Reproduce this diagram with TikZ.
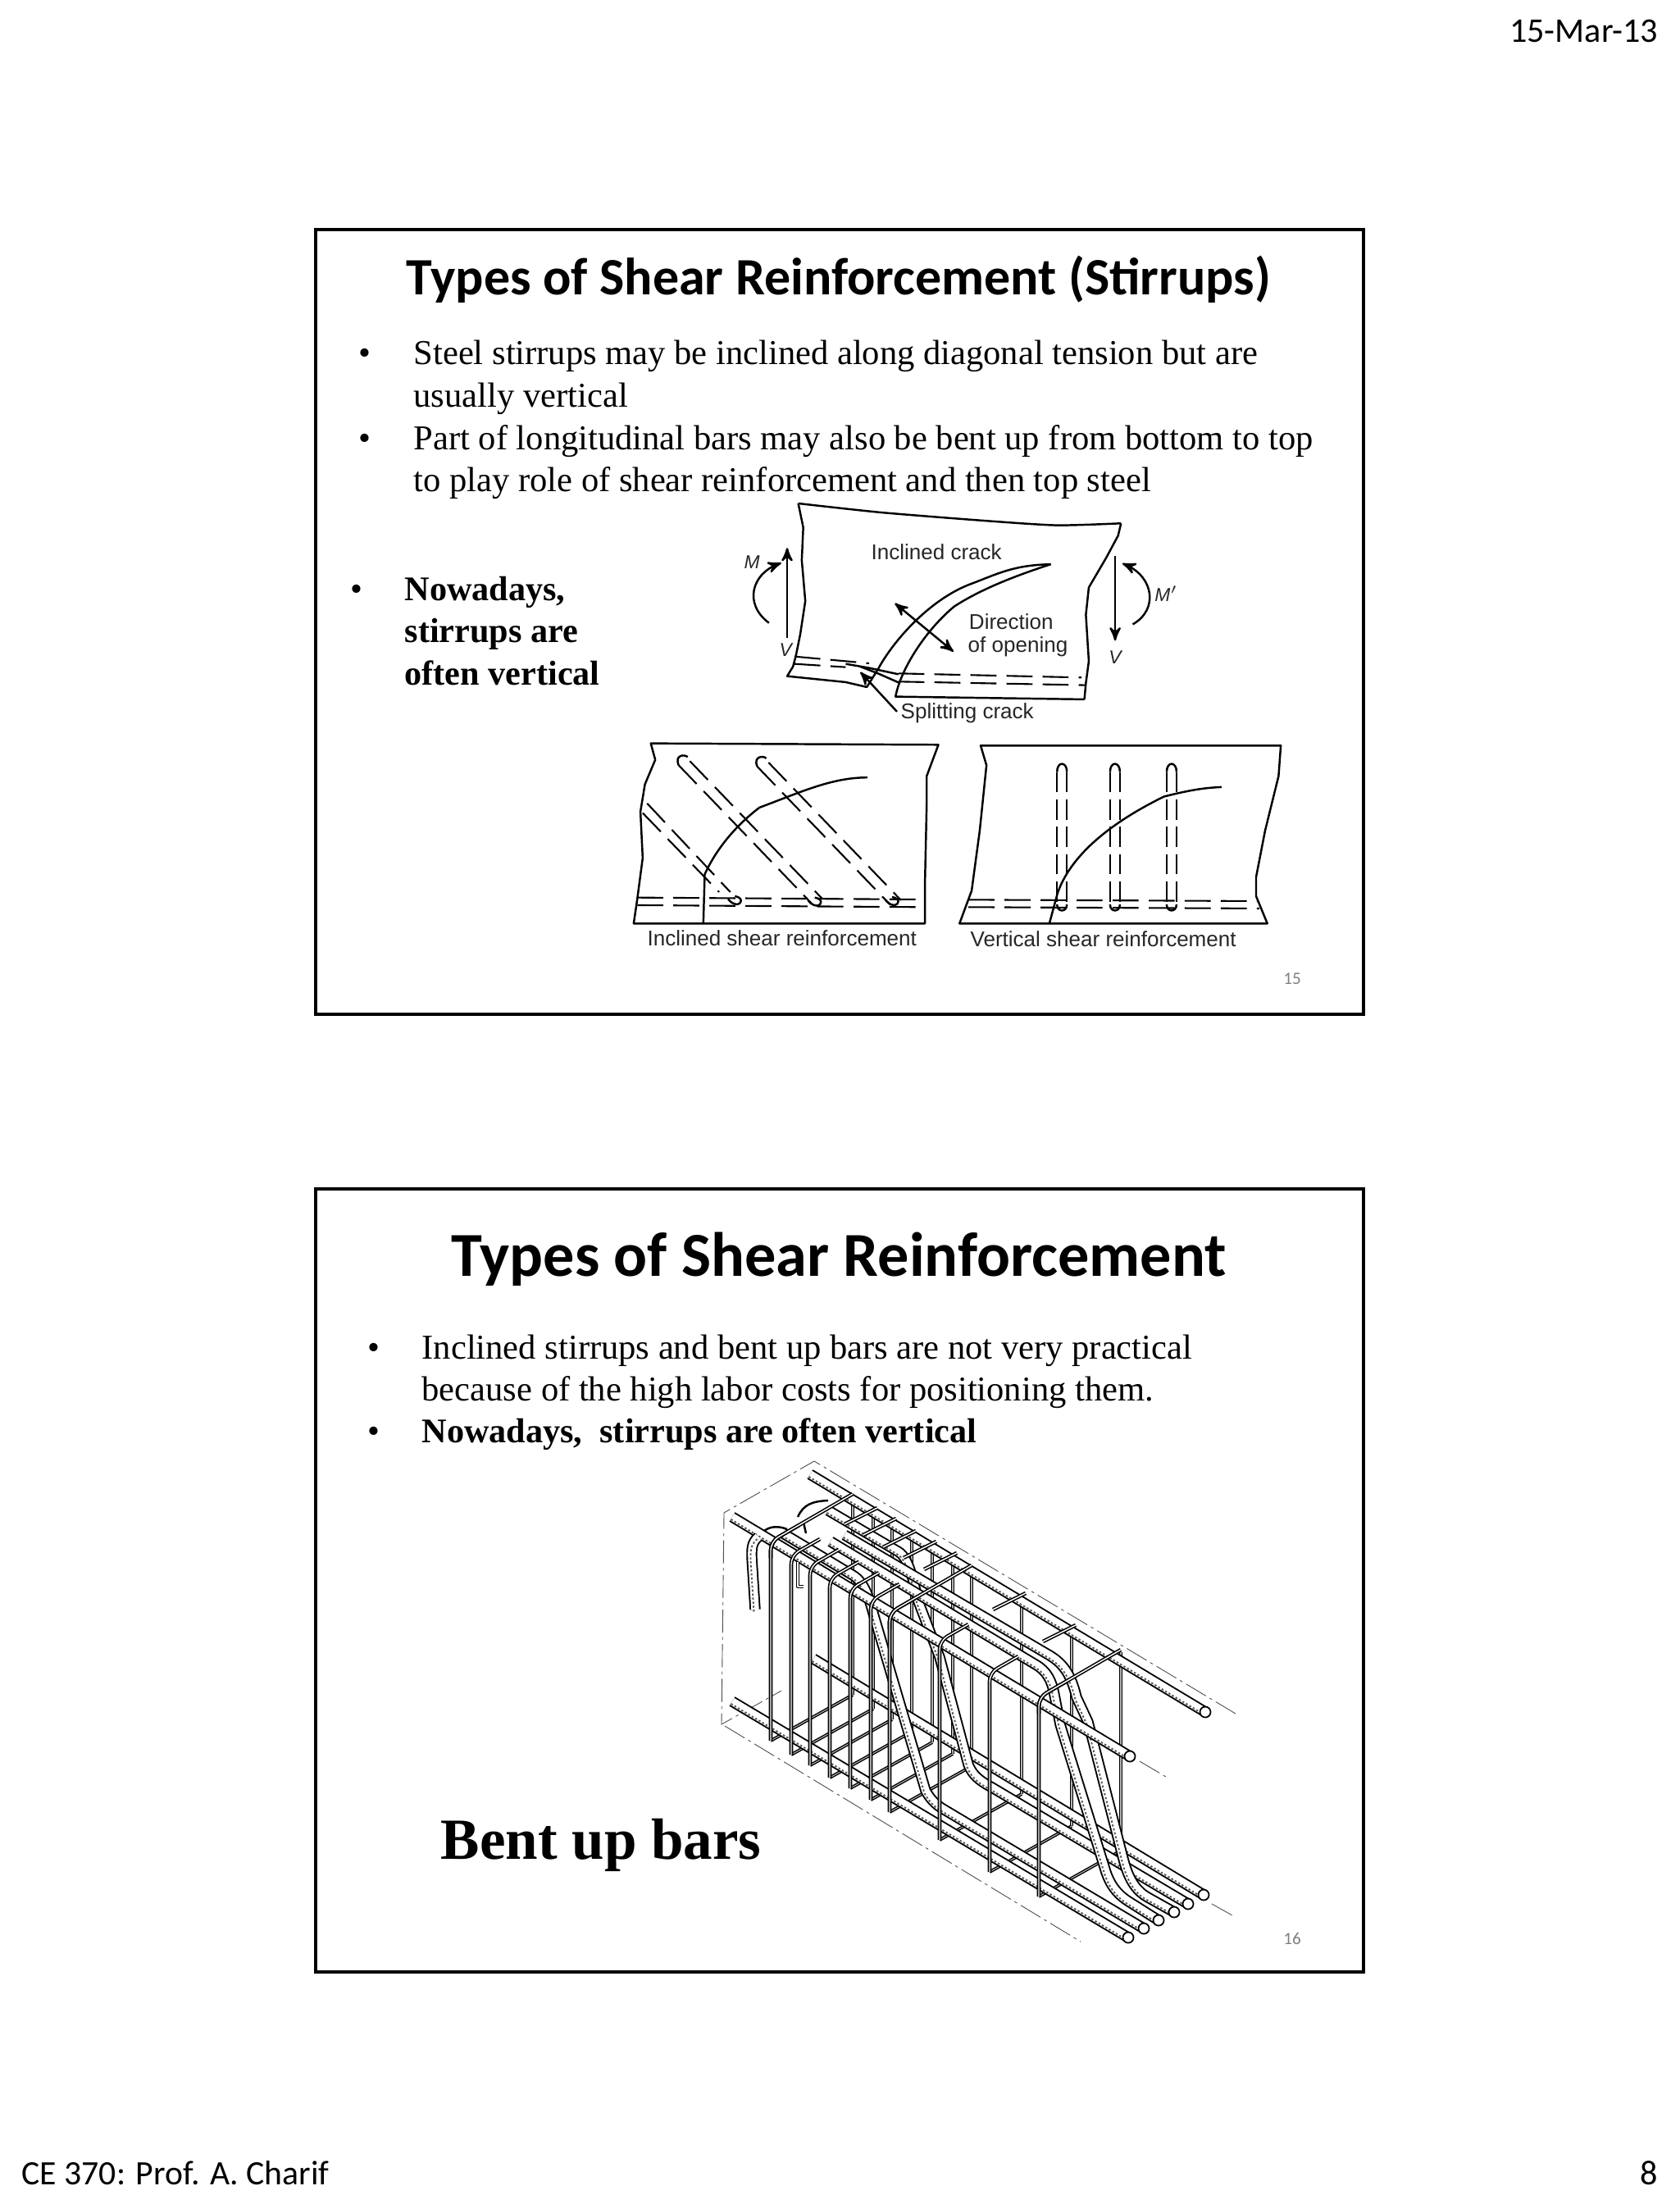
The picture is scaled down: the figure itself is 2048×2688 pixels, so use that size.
\documentclass[tikz,border=0pt]{standalone}
\usepackage{fontspec}
\setmainfont{Liberation Serif}
\newfontfamily\slidefont{Carlito}
\newfontfamily\figfont{Liberation Sans}
\usetikzlibrary{arrows}

\tikzset{
    frame/.style={draw,line width=1.1pt},
    bodytext/.style={anchor=base west,inner sep=0pt,font=\fontsize{12.1}{14}\selectfont},
    boldtext/.style={bodytext,font=\fontsize{12}{14}\selectfont\bfseries},
    pagetext/.style={anchor=base,inner sep=0pt,font=\slidefont\fontsize{12}{14}\selectfont},
    numtext/.style={inner sep=0pt,text=black!50,font=\slidefont\fontsize{6}{7}\selectfont},
    figtext/.style={inner sep=0pt,text=black!85,font=\figfont\fontsize{7.4}{9}\selectfont},
    figmath/.style={figtext,font=\figfont\itshape\fontsize{6.5}{8}\selectfont},
    figline/.style={line width=0.7pt,line join=round},
    rebardash/.style={line width=0.6pt,dash pattern=on 9pt off 3.5pt},
    legdash/.style={line width=0.6pt,dash pattern=on 7pt off 2.5pt},
    bar/.style={line width=0.55pt,double=white,double distance=2.7pt},
    stipple/.style={line width=0.55pt,black!65,dash pattern=on 0.7pt off 0.7pt},
    barend/.style={line width=0.5pt,fill=white},
    stirrup/.style={line width=0.45pt,double=white,double distance=0.4pt,line join=round},
    thintie/.style={line width=0.4pt,double=black!30,double distance=0.3pt},
    envelope/.style={line width=0.25pt,black!70,dash pattern=on 8pt off 1.5pt on 1pt off 1.5pt}
}
\newcommand{\rebar}[1]{\draw[bar] #1; \draw[stipple,shift={(-1.5,3)}] #1;}

\begin{document}
\begin{tikzpicture}[x=0.01cm,y=-0.01cm,>=stealth']
    \path[fill=white,use as bounding box] (0,0) rectangle (2048,2688);

    \node[pagetext,anchor=base east] (date) at (2023,52) {15-Mar-13};
    \node[pagetext,anchor=base west,font=\slidefont\fontsize{11.85}{14}\selectfont] (course) at (26,2664) {CE 370: Prof. A. Charif};
    \node[pagetext,anchor=base east] (page) at (2023,2664) {8};

    \draw[frame] (385,280) rectangle (1663,1237);
    \draw[frame] (385,1450) rectangle (1663,2405);

    \node[anchor=base,inner sep=0pt,font=\slidefont\bfseries\fontsize{18.2}{20}\selectfont] (title1) at (1023,360) {Types of Shear Reinforcement (Stirrups)};
    \node[bodytext] (b1) at (437,445) {•};
    \node[bodytext] (l1) at (504,445) {Steel stirrups may be inclined along diagonal tension but are};
    \node[bodytext] (l2) at (504,497) {usually vertical};
    \node[bodytext] (b2) at (437,548) {•};
    \node[bodytext] (l3) at (504,548) {Part of longitudinal bars may also be bent up from bottom to top};
    \node[bodytext] (l4) at (504,599) {to play role of shear reinforcement and then top steel};
    \node[bodytext] (b3) at (427,732) {•};
    \node[boldtext] (n1) at (493,732) {Nowadays,};
    \node[boldtext] (n2) at (493,783) {stirrups are};
    \node[boldtext] (n3) at (493,835) {often vertical};
    \node[numtext] (num15) at (1576,1194) {15};

    \node[anchor=base,inner sep=0pt,font=\slidefont\bfseries\fontsize{21.7}{24}\selectfont] (title2) at (1023,1556) {Types of Shear Reinforcement};
    \node[bodytext] (b4) at (448,1657) {•};
    \node[bodytext] (m1) at (514,1657) {Inclined stirrups and bent up bars are not very practical};
    \node[bodytext] (m2) at (514,1708) {because of the high labor costs for positioning them.};
    \node[bodytext] (b5) at (448,1759) {•};
    \node[boldtext] (m3) at (514,1759) {Nowadays,\ \ stirrups are often vertical};
    \node[anchor=base west,inner sep=0pt,font=\fontsize{20.2}{24}\selectfont\bfseries] (bent) at (537,2267) {Bent up bars};
    \node[numtext] (num16) at (1576,2364) {16};

    \begin{scope}[shift={(860,600)},x=0.00357cm,y=-0.00333cm]
        \draw[figline] plot[smooth,tension=0.4] coordinates {(318,42) (600,75) (950,105) (1200,122) (1420,115)};
        \draw[figline] (318,42) -- (335,130) -- (330,250) -- (342,400) -- (325,520) -- (310,600) -- (300,640) -- (280,675) -- (480,697) -- (552,715) -- (590,650);
        \draw[figline] (590,650) .. controls (640,550) and (760,400) .. (900,340) .. controls (1000,300) and (1050,268) .. (1180,265);
        \draw[figline] (1180,265) .. controls (1080,300) and (950,350) .. (850,420) .. controls (760,500) and (670,640) .. (650,750) -- (1295,760);
        \draw[figline] (1295,760) -- (1300,700) -- (1310,620) -- (1300,450) -- (1310,350) -- (1370,240) -- (1410,160) -- (1420,115);
        \draw[rebardash] (305,603) -- (560,628);
        \draw[rebardash] (305,630) -- (480,642);
        \draw[figline] (480,630) -- (560,645) -- (660,668);
        \draw[figline] (530,640) -- (590,665) -- (660,698);
        \draw[rebardash] (660,665) -- (1285,680);
        \draw[rebardash] (660,695) -- (1300,708);
        \draw[figline,->] (218,480) .. controls (130,410) and (160,300) .. (260,260);
        \draw[figline,->] (280,535) -- (280,205);
        \draw[figline,->] (1400,235) -- (1400,545);
        \draw[figline,->] (1460,485) .. controls (1550,430) and (1530,310) .. (1425,262);
        \draw[figline,<->] (648,408) -- (848,585);
        \draw[figline,->] (655,805) -- (530,660);
        \node[figtext] (incl) at (790,220) {Inclined crack};
        \node[figtext] (dir) at (1045,475) {Direction};
        \node[figtext] (open) at (1068,566) {of opening};
        \node[figtext] (split) at (895,812) {Splitting crack};
        \node[figmath] (ml) at (160,258) {M};
        \node[figmath] (vl) at (275,578) {V};
        \node[figmath] (vr) at (1400,605) {V};
        \node[figmath] (mr) at (1575,372) {M$'$};
    \end{scope}

    \begin{scope}[shift={(740,880)},x=0.00548cm,y=-0.00333cm]
        \draw[figline] (108,140) -- (98,80) -- (738,85) -- (712,200) -- (712,300) -- (708,600) -- (708,740) -- (60,740) -- (68,650) -- (80,500) -- (75,330) -- (85,230) -- (108,140);
        \draw[figline] (215,738) -- (218,560) .. controls (240,480) and (280,390) .. (340,315) .. controls (430,260) and (500,205) .. (580,205);
        \draw[rebardash] (68,645) -- (705,652);
        \draw[rebardash] (68,673) -- (705,680);
        \draw[rebardash] (90,300) -- (275,625);
        \draw[rebardash] (80,335) -- (250,625);
        \foreach \tx/\ty in {185/145, 360/150} {
            \draw[rebardash] (\tx,\ty) -- ++(295,505);
            \draw[rebardash] (\tx-25,\ty+15) -- ++(295,505);
            \draw[figline] (\tx-25,\ty+15) .. controls (\tx-35,\ty-25) and (\tx-10,\ty-25) .. (\tx-5,\ty-15);
        }
        \foreach \hx/\hy in {290/655, 468/660, 640/658}
            \draw[figline] (\hx-5,\hy-15) .. controls (\hx+15,\hy-10) and (\hx+10,\hy+15) .. (\hx,\hy+15) .. controls (\hx-10,\hy+15) and (\hx-18,\hy) .. (\hx-20,\hy-5);
        \draw[figline] (1470,740) -- (1445,640) -- (1445,570) -- (1465,400) -- (1495,200) -- (1500,88) -- (832,88) -- (845,160) -- (830,400) -- (812,620) -- (785,740) -- cycle;
        \draw[figline] (985,740) -- (1003,630) .. controls (1030,500) and (1110,380) .. (1240,275) .. controls (1300,250) and (1330,243) .. (1368,240);
        \draw[rebardash] (805,653) -- (1450,658);
        \draw[rebardash] (805,680) -- (1452,685);
        \foreach \sx in {1002, 1120, 1246} {
            \draw[legdash] (\sx,185) -- (\sx,670);
            \draw[legdash] (\sx+22,185) -- (\sx+22,670);
            \draw[figline] (\sx,185) .. controls (\sx,145) and (\sx+22,145) .. (\sx+22,185);
            \draw[figline] (\sx,670) .. controls (\sx,700) and (\sx+22,700) .. (\sx+22,670);
        }
        \node[figtext] (inclshear) at (390,795) {Inclined shear reinforcement};
        \node[figtext] (vertshear) at (1105,798) {Vertical shear reinforcement};
    \end{scope}

    \draw[envelope] (1507,2090) -- (993,1782) -- (883,1845) -- (880,2103) -- (953,2062);
    \draw[envelope] (884,2105) -- (1318,2368);
    \draw[envelope] (1390,2148) -- (1422,2167);
    \draw[envelope] (1478,2322) -- (1503,2336);

    \foreach \fx/\fy in {940/1880, 965/1897, 988/1910, 1012/1925, 1037/1938, 1062/1952, 1085/1967, 1146/2001, 1207/2040, 1267/2070} {
        \draw[thintie] (\fx+100,\fy-55) -- (\fx+100,\fy+187);
        \draw[thintie] (\fx,\fy+243) -- (\fx+100,\fy+187);
    }
    \rebar{(992,2023) -- (1468,2311)}
    \draw[barend] (1468,2311) circle (6.5);
    \rebar{(1010,1842) -- (1095,1892) .. controls (1110,1900) and (1115,1935) .. (1120,1953) -- (1146,2021) -- (1181,2152) .. controls (1186,2165) and (1195,2172) .. (1210,2180) -- (1449,2322)}
    \draw[barend] (1449,2322) circle (6.5);
    \rebar{(955,1870) -- (1040,1921) .. controls (1055,1930) and (1060,1950) .. (1064,1964) -- (1129,2184) .. controls (1134,2193) and (1140,2200) .. (1150,2206) -- (1395,2352)}
    \draw[barend] (1395,2352) circle (6.5);
    \rebar{(893,2075) -- (1376,2363)}
    \draw[barend] (1376,2363) circle (6.5);
    \rebar{(988,1798) -- (1470,2088)}
    \draw[barend] (1470,2088) circle (6.5);

    \foreach \fx/\fy in {965/1897, 988/1910, 1012/1925, 1037/1938, 1062/1952, 1146/2001, 1207/2040}
        \draw[stirrup] (\fx+65,\fy-38) -- (\fx+105,\fy-58);

    \rebar{(1030,1872) -- (1277,2017) .. controls (1295,2027) and (1306,2040) .. (1313,2070) -- (1327,2100) -- (1370,2267) .. controls (1376,2290) and (1384,2305) .. (1400,2314) -- (1432,2332)}
    \draw[barend] (1432,2332) circle (6.5);
    \rebar{(1013,1880) -- (1263,2030) .. controls (1277,2038) and (1283,2050) .. (1286,2067) -- (1293,2103) -- (1347,2277) .. controls (1352,2295) and (1360,2308) .. (1375,2318) -- (1413,2342)}
    \draw[barend] (1413,2342) circle (6.5);
    \rebar{(893,1850) -- (1378,2142)}
    \draw[barend] (1378,2142) circle (6.5);
    \rebar{(925,1874) .. controls (916,1882) and (917,1890) .. (917,1900) -- (921,1963)}

    \draw[figline] (932,1867) .. controls (940,1861) and (950,1861) .. (960,1865);
    \draw[figline] (973,1850) .. controls (980,1835) and (990,1831) .. (1010,1830);
    \draw[figline] (980,1857) -- (983,1870);
    \draw[stirrup] (973,1905) -- (973,1935) -- (980,1935);

    \foreach \fx/\fy in {940/1880, 965/1897, 988/1910, 1012/1925, 1037/1938, 1062/1952, 1085/1967, 1146/2001, 1207/2040, 1267/2070}
        \draw[stirrup,rounded corners=3pt] (\fx+35,\fy-20) -- (\fx,\fy) -- (\fx,\fy+243);
    \foreach \fx/\fy in {940/1880, 1085/1967, 1267/2070}
        \draw[stirrup,rounded corners=3pt] (\fx+100,\fy-58) -- (\fx,\fy) -- (\fx,\fy+20);
\end{tikzpicture}
\end{document}
